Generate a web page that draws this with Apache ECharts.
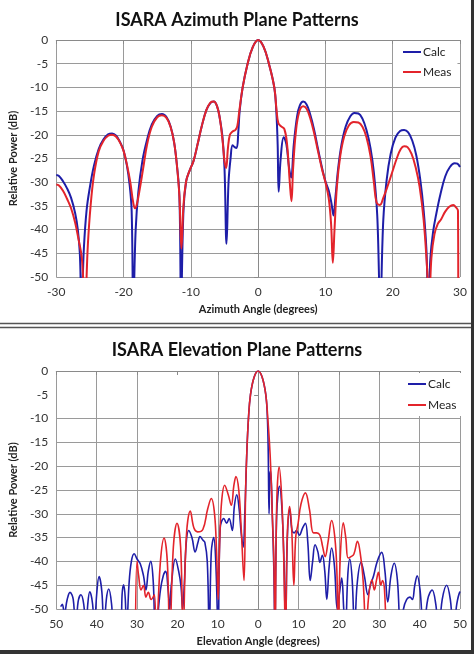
<!DOCTYPE html>
<html><head><meta charset="utf-8">
<script src="https://cdn.jsdelivr.net/npm/echarts@6/dist/echarts.min.js"></script>
<style>html,body{margin:0;padding:0;background:#fff}#c{width:474px;height:654px}</style>
</head><body><div id="c"></div><script>
// ---- data: [angle (deg), relative power (dB)] ----
const azCalc = [[-30,-28.5],[-29.6,-28.7],[-29,-29.8],[-28.4,-31.3],[-27.8,-33.3],[-27.2,-36.5],[-26.8,-40],[-26.5,-45],[-26.25,-56],[-25.9,-44],[-25.5,-36],[-25,-31],[-24.4,-26.5],[-23.7,-23],[-23,-21],[-22.3,-19.9],[-21.7,-19.7],[-21.1,-20.2],[-20.5,-21.6],[-20,-23.3],[-19.5,-26.5],[-19.1,-30.5],[-18.8,-36],[-18.55,-56],[-18.2,-40],[-17.8,-32],[-17.2,-25.5],[-16.5,-21],[-15.8,-17.8],[-15,-16],[-14.3,-15.6],[-13.6,-16.3],[-13,-18.3],[-12.5,-21.5],[-12.1,-26],[-11.7,-33],[-11.45,-56],[-11.1,-36],[-10.7,-29.8],[-10.2,-27.6],[-9.6,-25.5],[-9,-22],[-8.4,-18.3],[-7.7,-14.8],[-7.1,-13.3],[-6.6,-13],[-6.1,-14],[-5.7,-16.5],[-5.3,-20.5],[-5,-27],[-4.7,-43],[-4.4,-30],[-4.1,-25],[-3.8,-22.2],[-3.5,-22.6],[-3.2,-22.8],[-2.95,-19.5],[-2.75,-15],[-2.3,-10],[-1.6,-5.2],[-0.8,-1.5],[0,0],[0.8,-1.4],[1.6,-5],[2.4,-10],[2.7,-15],[2.9,-22],[3.05,-32],[3.35,-25],[3.8,-20.5],[4.2,-22],[4.6,-27],[4.9,-29],[5.3,-22],[5.8,-16],[6.2,-13.8],[6.7,-13],[7.2,-13.6],[7.7,-15.5],[8.3,-18.8],[8.9,-23],[9.5,-27],[10,-29.8],[10.5,-31.8],[10.9,-34.5],[11.2,-37],[11.5,-33],[11.9,-27],[12.4,-22],[13,-18.3],[13.7,-16.1],[14.3,-15.4],[14.9,-15.5],[15.5,-16.6],[16.1,-19],[16.7,-22.8],[17.2,-28],[17.7,-37],[18.15,-56],[18.6,-38],[19.1,-29.5],[19.7,-24],[20.4,-20.6],[21.1,-19.2],[21.7,-19],[22.3,-19.5],[22.9,-21.2],[23.5,-24.3],[24.1,-29.5],[24.6,-36],[25,-44],[25.3,-56],[25.6,-46],[26,-40.5],[26.5,-36.5],[27.1,-32.5],[27.8,-28.8],[28.5,-26.8],[29.2,-26],[29.6,-26.1],[30,-26.8]];
const azMeas = [[-30,-30.5],[-29.6,-30.7],[-29,-31.8],[-28.4,-33.5],[-27.8,-35.5],[-27.2,-38.5],[-26.7,-42],[-26.2,-46],[-25.75,-56],[-25.3,-43],[-24.9,-35],[-24.4,-28.5],[-23.7,-23.5],[-23,-21.3],[-22.3,-20.2],[-21.7,-20],[-21.1,-20.4],[-20.5,-21.7],[-20,-23.4],[-19.5,-26.3],[-19,-30],[-18.6,-34],[-18.3,-35.5],[-18,-34.5],[-17.6,-31.5],[-17.1,-27.2],[-16.5,-22],[-15.8,-18.3],[-15,-16.3],[-14.3,-15.9],[-13.6,-16.5],[-13,-18.4],[-12.5,-21.5],[-12.1,-26],[-11.7,-33],[-11.4,-44],[-11.1,-35],[-10.7,-29.8],[-10.2,-27.6],[-9.6,-25.5],[-9,-22],[-8.4,-18.3],[-7.7,-14.8],[-7.1,-13.2],[-6.6,-13],[-6.1,-14],[-5.7,-16.5],[-5.3,-21],[-5,-25.5],[-4.75,-27],[-4.5,-23],[-4.2,-20],[-3.8,-19.3],[-3.4,-19],[-3.1,-18.2],[-2.8,-15],[-2.3,-10],[-1.6,-5.2],[-0.8,-1.5],[0,0],[0.8,-1.4],[1.6,-5],[2.4,-10],[2.75,-15],[3.0,-17.5],[3.4,-18.2],[3.9,-18.8],[4.3,-22],[4.7,-30],[4.95,-34],[5.2,-27],[5.6,-19.5],[6.1,-15.2],[6.7,-14],[7.2,-14.5],[7.7,-16.3],[8.3,-19.5],[8.9,-23.5],[9.5,-27.3],[10,-30],[10.5,-33.5],[10.85,-39],[11.1,-47],[11.35,-40],[11.7,-31],[12.2,-24.5],[12.8,-20.3],[13.5,-18],[14.2,-17.3],[14.9,-17.4],[15.5,-18.3],[16.1,-20.5],[16.7,-24.5],[17.2,-30],[17.6,-34.3],[18.1,-34.8],[18.6,-33.3],[19.2,-31],[19.9,-28],[20.6,-25],[21.2,-23],[21.7,-22.4],[22.2,-22.6],[22.8,-24],[23.4,-26.8],[24,-31],[24.6,-38],[25.1,-48],[25.4,-56],[25.75,-46],[26.2,-41],[26.7,-38.8],[27.2,-37.8],[27.8,-36.2],[28.4,-35.2],[29,-34.8],[29.4,-35.3],[29.7,-36],[29.75,-56]];
const elCalc = [[-48.9,-49.5],[-48.5,-49],[-48.0,-51],[-47.3,-48],[-46.6,-46.5],[-45.8,-48],[-45.2,-55],[-44.6,-48.5],[-43.9,-47],[-43.2,-49],[-42.6,-55],[-42.2,-49],[-41.7,-46.4],[-41.0,-49],[-40.6,-55],[-40.0,-47],[-39.4,-43.2],[-38.7,-46.5],[-38.2,-55],[-37.6,-48],[-37.0,-45.8],[-36.3,-49],[-35.8,-55],[-34.0,-56],[-33.7,-47],[-33.3,-44.9],[-32.9,-48],[-32.6,-55],[-32.0,-45],[-31.4,-40],[-30.7,-38.4],[-30.0,-39.5],[-29.2,-40.5],[-28.4,-43],[-27.8,-46],[-27.2,-42],[-26.6,-40],[-26.0,-44],[-25.4,-55],[-24.2,-46],[-23.5,-43],[-22.9,-42.1],[-22.3,-46],[-21.9,-50],[-21.5,-45],[-20.5,-39.5],[-19.7,-42],[-19.1,-45.3],[-18.7,-50],[-18.3,-45],[-17.8,-36],[-17.2,-33.5],[-16.4,-35],[-15.6,-38],[-14.9,-36],[-14.4,-34.8],[-13.7,-35.5],[-13.2,-36],[-12.6,-40],[-12.1,-55],[-11.6,-38],[-11.0,-35],[-10.5,-40],[-9.9,-55],[-9.4,-33],[-8.5,-31],[-7.8,-32],[-7.2,-31],[-6.4,-33.5],[-5.9,-28.5],[-5.3,-26],[-4.7,-29],[-4.2,-34],[-3.7,-37],[-3.3,-30],[-3.1,-25],[-2.8,-17],[-2.4,-10],[-1.9,-5],[-1.0,-1.3],[0,0],[1.0,-1.3],[1.9,-5],[2.3,-10],[2.5,-17],[2.7,-30],[2.9,-22],[3.1,-21],[3.5,-30],[3.9,-42],[4.15,-55],[4.6,-30],[5.3,-24.2],[5.9,-29],[6.4,-40],[6.8,-55],[7.2,-36],[7.8,-29],[8.4,-33.5],[8.9,-34],[9.5,-33.5],[10.2,-34.5],[11.0,-33],[11.7,-32],[12.3,-36],[12.9,-44],[13.5,-40],[14.1,-36.5],[14.8,-38],[15.3,-40.2],[15.9,-38.7],[16.5,-42],[17.0,-48],[17.6,-41],[18.2,-37.2],[18.9,-41],[19.6,-50],[20.1,-47],[20.7,-43.5],[21.2,-50],[21.6,-55],[22.2,-43],[22.7,-39.5],[23.3,-44],[23.9,-55],[24.5,-45],[25.5,-40.2],[26.3,-43],[27.2,-47],[27.8,-45],[28.6,-43],[29.5,-40],[30.6,-38.1],[31.4,-42],[32.1,-48.5],[32.9,-43],[33.7,-40.4],[34.5,-44],[35.3,-55],[36.0,-50],[36.8,-48],[37.6,-47.5],[38.2,-48],[38.8,-45],[39.4,-43],[40.1,-46],[41.0,-55],[42.0,-48],[43.1,-46],[44.0,-49],[44.7,-55],[45.6,-48],[46.7,-45],[47.6,-48],[48.4,-55],[49.2,-49],[50,-46.3]];
const elMeas = [[-30.4,-56],[-30.0,-40],[-29.6,-43],[-29.0,-46],[-28.4,-45],[-27.8,-47.5],[-27.2,-46.5],[-26.5,-48],[-25.7,-47],[-25.3,-56],[-24.2,-40],[-23.3,-35.1],[-22.5,-40],[-21.9,-56],[-21.0,-37],[-20.1,-32],[-19.2,-37],[-18.6,-56],[-17.8,-35],[-16.8,-29.4],[-15.9,-33],[-15.0,-33.8],[-13.7,-33.3],[-12.5,-29],[-11.6,-26.8],[-10.8,-30],[-10.3,-38],[-9.9,-48],[-9.5,-35],[-9.0,-27],[-8.3,-24],[-7.4,-26],[-6.65,-28.2],[-6.0,-24],[-5.5,-22.2],[-4.8,-25],[-4.2,-33],[-3.5,-44],[-3.1,-25],[-2.8,-17],[-2.4,-10],[-1.9,-5],[-1.0,-1.3],[0,0],[1.0,-1.3],[1.9,-5],[2.4,-10],[2.8,-15],[3.1,-20],[3.5,-30],[3.9,-40],[4.2,-56],[4.6,-28],[5.2,-20.2],[5.8,-26],[6.3,-38],[6.8,-56],[7.2,-35],[7.8,-28.5],[8.3,-33],[8.85,-45],[9.3,-35],[9.9,-32],[10.6,-28],[11.7,-25.6],[12.7,-29],[13.7,-34],[14.5,-34],[15.3,-34.5],[16.0,-37],[16.6,-39],[17.3,-36],[18.2,-31.4],[19.0,-35],[19.5,-42],[19.85,-56],[20.3,-40],[21.1,-31.9],[21.7,-35],[22.3,-39.3],[23.0,-39],[23.7,-38.5],[24.6,-35.8],[25.4,-39],[26.0,-44],[26.8,-56],[27.3,-48],[28.2,-43.9],[28.8,-46],[29.3,-44],[29.8,-42.3],[30.4,-45],[30.8,-44],[31.3,-46],[31.7,-56]];
const seriesNames = ['Calc', 'Meas'];
const titles = ['ISARA Azimuth Plane Patterns', 'ISARA Elevation Plane Patterns'];
const xNames = ['Azimuth Angle (degrees)', 'Elevation Angle (degrees)'];
const yName = 'Relative Power (dB)';

const FONT = 'Lato, "Open Sans", sans-serif';
const GRID = '#9a9a9a';
const AXIS = '#8a8a8a';
const BLUE = '#1e1ea8';
const RED = '#e3242b';

function xAx(gi, min, max, name, fmt, splitColor) {
  return {
    type: 'value', gridIndex: gi, min: min, max: max, interval: 10,
    name: name, nameLocation: 'middle', nameGap: 27,
    nameTextStyle: {fontFamily: FONT, fontWeight: 'bold', fontSize: 11, color: '#222'},
    axisLine: {show: true, lineStyle: {color: AXIS, width: 1}},
    axisTick: {show: true, length: 4, inside: false, lineStyle: {color: AXIS}},
    axisLabel: {fontFamily: FONT, fontSize: 12, color: '#333', margin: 9, formatter: fmt},
    splitLine: {show: true, lineStyle: {color: splitColor, width: 1}}
  };
}
function yAx(gi, splitColor) {
  return {
    type: 'value', gridIndex: gi, min: -50, max: 0, interval: 5,
    name: yName, nameLocation: 'middle', nameGap: 31, nameRotate: 90,
    nameTextStyle: {fontFamily: FONT, fontWeight: 'bold', fontSize: 11, color: '#222'},
    axisLine: {show: true, lineStyle: {color: AXIS, width: 1}},
    axisTick: {show: true, length: 4, inside: false, lineStyle: {color: AXIS}},
    axisLabel: {fontFamily: FONT, fontSize: 12, color: '#333', margin: 8},
    splitLine: {show: true, lineStyle: {color: splitColor, width: 1}}
  };
}
function legendCfg(left, top, gap) {
  return {
    data: seriesNames, orient: 'vertical', left: left, top: top,
    padding: [5, 6, 5, 10], itemGap: gap, itemWidth: 18, itemHeight: 2, icon: 'rect',
    backgroundColor: '#fff', selectedMode: false,
    textStyle: {fontFamily: FONT, fontSize: 12, color: '#222', padding: [0, 0, 0, -3]}
  };
}
function ser(name, xi, data, color, w) {
  return {
    name: name, type: 'line', xAxisIndex: xi, yAxisIndex: xi, data: data,
    showSymbol: false, symbol: 'none', smooth: 0.4, clip: true,
    lineStyle: {color: color, width: w, join: 'round'}, itemStyle: {color: color}, animation: false
  };
}

const elXSplit = [GRID, GRID, GRID, 'rgba(0,0,0,0)', GRID, GRID, GRID, GRID, GRID, GRID, GRID];
const elYSplit = [GRID, GRID, GRID, GRID, GRID, GRID, GRID, GRID, GRID, 'rgba(0,0,0,0)', GRID];

const option = {
  animation: false,
  backgroundColor: '#fff',
  title: [
    {text: titles[0], left: 'center', top: 6, textStyle: {fontFamily: FONT, fontWeight: 'bold', fontSize: 18, color: '#111'}},
    {text: titles[1], left: 'center', top: 336, textStyle: {fontFamily: FONT, fontWeight: 'bold', fontSize: 18, color: '#111'}}
  ],
  grid: [
    {left: 50, top: 40, width: 410, height: 237},
    {left: 51, top: 371, width: 409, height: 238}
  ],
  xAxis: [
    xAx(0, -30, 30, xNames[0], v => String(v), GRID),
    xAx(1, -50, 50, xNames[1], v => String(Math.abs(v)), elXSplit)
  ],
  yAxis: [yAx(0, GRID), yAx(1, elYSplit)],
  legend: [legendCfg(393, 41, 8), legendCfg(398, 373, 9)],
  series: [
    ser(seriesNames[0], 0, azCalc, BLUE, 2),
    ser(seriesNames[1], 0, azMeas, RED, 2),
    ser(seriesNames[0], 1, elCalc, BLUE, 1.6),
    ser(seriesNames[1], 1, elMeas, RED, 1.6)
  ],
  graphic: [
    {type: 'line', shape: {x1: 0, y1: 323.5, x2: 471, y2: 323.5}, style: {stroke: '#555', lineWidth: 1.5}, silent: true},
    {type: 'line', shape: {x1: 0, y1: 327.5, x2: 471, y2: 327.5}, style: {stroke: '#555', lineWidth: 1.5}, silent: true},
    {type: 'rect', shape: {x: 471, y: 0, width: 3, height: 654}, style: {fill: '#333'}, silent: true},
    {type: 'rect', shape: {x: 0, y: 650, width: 474, height: 4}, style: {fill: '#333'}, silent: true}
  ]
};
const chart = echarts.init(document.getElementById('c'), null, {renderer: 'canvas'});
chart.setOption(option);
</script></body></html>
